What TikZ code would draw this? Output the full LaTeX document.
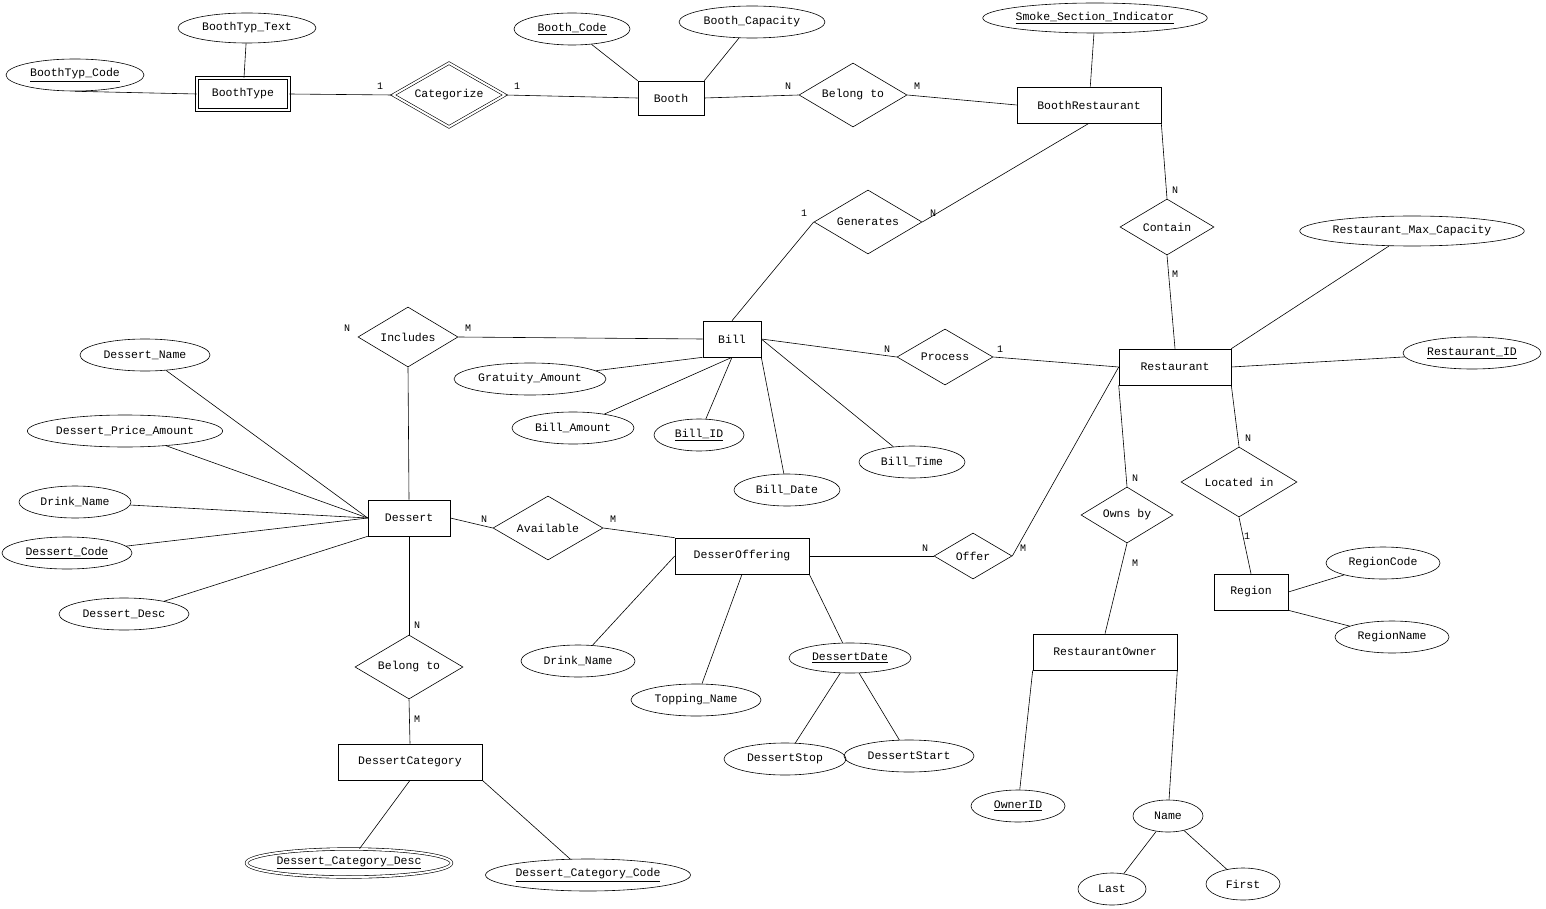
\documentclass[tikz,border=0pt]{standalone}
\usepackage{fontspec}
\setmainfont{Liberation Mono}
\usetikzlibrary{shapes.geometric}
\begin{document}
\begin{tikzpicture}[x=1pt,y=-1pt,line width=0.6pt,
 font=\fontsize{11.5}{13}\selectfont,
 ent/.style={draw,rectangle,inner sep=0pt,minimum height=36pt},
 rel/.style={draw,diamond,aspect=1.7,inner sep=0pt},
 att/.style={draw,ellipse,inner sep=0pt,minimum height=32pt},
 lab/.style={inner sep=0pt,font=\fontsize{10}{12}\selectfont}]
\useasboundingbox (0,0) rectangle (1546,909);
% entities
\node[ent,double,double distance=2pt,minimum width=92pt,minimum height=32pt] (bt) at (243,94) {BoothType};
\node[ent,minimum width=66pt,minimum height=34pt] (booth) at (671,98) {Booth};
\node[ent,minimum width=144pt] (br) at (1089,105) {BoothRestaurant};
\node[ent,minimum width=58pt] (bill) at (732,339) {Bill};
\node[ent,minimum width=112pt] (rest) at (1175,367) {Restaurant};
\node[ent,minimum width=82pt] (des) at (409,518) {Dessert};
\node[ent,minimum width=134pt] (off) at (742,556) {DesserOffering};
\node[ent,minimum width=74pt] (reg) at (1251,592) {Region};
\node[ent,minimum width=144pt] (own) at (1105,652) {RestaurantOwner};
\node[ent,minimum width=144pt] (dc) at (410,762) {DessertCategory};
% relationships
\node[rel,double,double distance=2pt,minimum width=112pt,minimum height=64pt] (cat) at (449,95) {Categorize};
\node[rel,minimum width=108pt,minimum height=64pt] (bel) at (853,95) {Belong to};
\node[rel,minimum width=108pt,minimum height=64pt] (gen) at (868,222) {Generates};
\node[rel,minimum width=94pt,minimum height=56pt] (con) at (1167,227) {Contain};
\node[rel,minimum width=100pt,minimum height=60pt] (inc) at (408,337) {Includes};
\node[rel,minimum width=96pt,minimum height=56pt] (pro) at (945,357) {Process};
\node[rel,minimum width=110pt,minimum height=64pt] (ava) at (548,528) {Available};
\node[rel,minimum width=78pt,minimum height=46pt] (ofr) at (973,556) {Offer};
\node[rel,minimum width=92pt,minimum height=56pt] (ownb) at (1127,515) {Owns by};
\node[rel,minimum width=116pt,minimum height=70pt] (loc) at (1239,482) {Located in};
\node[rel,minimum width=108pt,minimum height=64pt] (bel2) at (409,667) {Belong to};
% attributes
\node[att,minimum width=138pt,minimum height=30pt] (btt) at (247,28) {BoothTyp\_Text};
\node[att,minimum width=138pt] (btc) at (75,75) {\underline{BoothTyp\_Code}};
\node[att,minimum width=116pt] (bc) at (572,29) {\underline{Booth\_Code}};
\node[att,minimum width=146pt] (bcap) at (752,22) {Booth\_Capacity};
\node[att,minimum width=216pt,minimum height=30pt] (smk) at (1095,18) {\underline{Smoke\_Section\_Indicator}};
\node[att,minimum width=214pt,minimum height=30pt] (rmc) at (1412,231) {Restaurant\_Max\_Capacity};
\node[att,minimum width=138pt] (rid) at (1472,353) {\underline{Restaurant\_ID}};
\node[att,minimum width=130pt] (dn) at (145,355) {Dessert\_Name};
\node[att,minimum width=188pt] (dpa) at (125,431) {Dessert\_Price\_Amount};
\node[att,minimum width=112pt] (drn) at (75,502) {Drink\_Name};
\node[att,minimum width=130pt] (dco) at (67,553) {\underline{Dessert\_Code}};
\node[att,minimum width=130pt] (dde) at (124,614) {Dessert\_Desc};
\node[att,minimum width=152pt] (ga) at (530,379) {Gratuity\_Amount};
\node[att,minimum width=122pt] (ba) at (573,428) {Bill\_Amount};
\node[att,minimum width=90pt] (bid) at (699,435) {\underline{Bill\_ID}};
\node[att,minimum width=106pt] (bd) at (787,490) {Bill\_Date};
\node[att,minimum width=106pt] (bti) at (912,462) {Bill\_Time};
\node[att,minimum width=114pt] (drn2) at (578,661) {Drink\_Name};
\node[att,minimum width=130pt] (top) at (696,700) {Topping\_Name};
\node[att,minimum width=122pt,minimum height=30pt] (dd) at (850,658) {\underline{DessertDate}};
\node[att,minimum width=122pt] (dst) at (785,759) {DessertStop};
\node[att,minimum width=130pt] (dsa) at (909,756) {DessertStart};
\node[att,minimum width=94pt] (oid) at (1018,806) {\underline{OwnerID}};
\node[att,minimum width=70pt] (nm) at (1168,816) {Name};
\node[att,minimum width=68pt] (lst) at (1112,889) {Last};
\node[att,minimum width=74pt] (fst) at (1243,884) {First};
\node[att,minimum width=114pt] (rc) at (1383,563) {RegionCode};
\node[att,minimum width=114pt] (rn) at (1392,637) {RegionName};
\node[att,double,double distance=2pt,minimum width=194pt,minimum height=28pt] (dcd) at (349,863) {\underline{Dessert\_Category\_Desc}};
\node[att,minimum width=198pt] (dcc) at (588,875) {\underline{Dessert\_Category\_Code}};
% connectors
\draw (btc.south) -- (bt.west);
\draw (btt) -- (bt);
\draw (bt.east) -- (cat.west);
\draw (cat.east) -- (booth.west);
\draw (bc) -- (booth.north west);
\draw (bcap) -- (booth.north east);
\draw (booth.east) -- (bel.west);
\draw (bel.east) -- (br.west);
\draw (smk) -- (br);
\draw (br.south) -- (gen.east);
\draw (gen.west) -- (bill.north);
\draw (br.south east) -- (con.north);
\draw (con.south) -- (rest.north);
\draw (rest.north east) -- (rmc);
\draw (rest.east) -- (rid);
\draw (bill.east) -- (pro.west);
\draw (pro.east) -- (rest.west);
\draw (inc.east) -- (bill.west);
\draw (inc.south) -- (des.north);
\draw (bill.south west) -- (ga);
\draw (bill.south) -- (ba);
\draw (bill.south) -- (bid);
\draw (bill.south east) -- (bd);
\draw (bill.east) -- (bti);
\draw (des.west) -- (dn);
\draw (des.west) -- (dpa);
\draw (des.west) -- (drn);
\draw (des.west) -- (dco);
\draw (des.south west) -- (dde);
\draw (des.east) -- (ava.west);
\draw (ava.east) -- (off.north west);
\draw (off.east) -- (ofr.west);
\draw (ofr.east) -- (rest.west);
\draw (rest.south west) -- (ownb.north);
\draw (ownb.south) -- (own.north);
\draw (rest.south east) -- (loc.north);
\draw (loc.south) -- (reg.north);
\draw (reg.east) -- (rc);
\draw (reg.south east) -- (rn);
\draw (off.west) -- (drn2);
\draw (off.south) -- (top);
\draw (off.south east) -- (dd);
\draw (dd) -- (dst);
\draw (dd) -- (dsa);
\draw (own.south west) -- (oid);
\draw (own.south east) -- (nm);
\draw (nm) -- (lst);
\draw (nm) -- (fst);
\draw (des.south) -- (bel2.north);
\draw (bel2.south) -- (dc.north);
\draw (dc.south) -- (dcd);
\draw (dc.south east) -- (dcc);
% cardinalities
\node[lab] (c1) at (380,86) {1};
\node[lab] (c2) at (517,86) {1};
\node[lab] (c3) at (788,86) {N};
\node[lab] (c4) at (917,86) {M};
\node[lab] (c5) at (1175,190) {N};
\node[lab] (c6) at (1175,274) {M};
\node[lab] (c7) at (804,213) {1};
\node[lab] (c8) at (933,213) {N};
\node[lab] (c9) at (347,328) {N};
\node[lab] (c10) at (468,328) {M};
\node[lab] (c11) at (887,349) {N};
\node[lab] (c12) at (1000,349) {1};
\node[lab] (c13) at (1248,438) {N};
\node[lab] (c14) at (1247,536) {1};
\node[lab] (c15) at (1135,478) {N};
\node[lab] (c16) at (1135,563) {M};
\node[lab] (c17) at (484,519) {N};
\node[lab] (c18) at (613,519) {M};
\node[lab] (c19) at (925,548) {N};
\node[lab] (c20) at (1023,548) {M};
\node[lab] (c21) at (417,625) {N};
\node[lab] (c22) at (417,719) {M};
\end{tikzpicture}
\end{document}
